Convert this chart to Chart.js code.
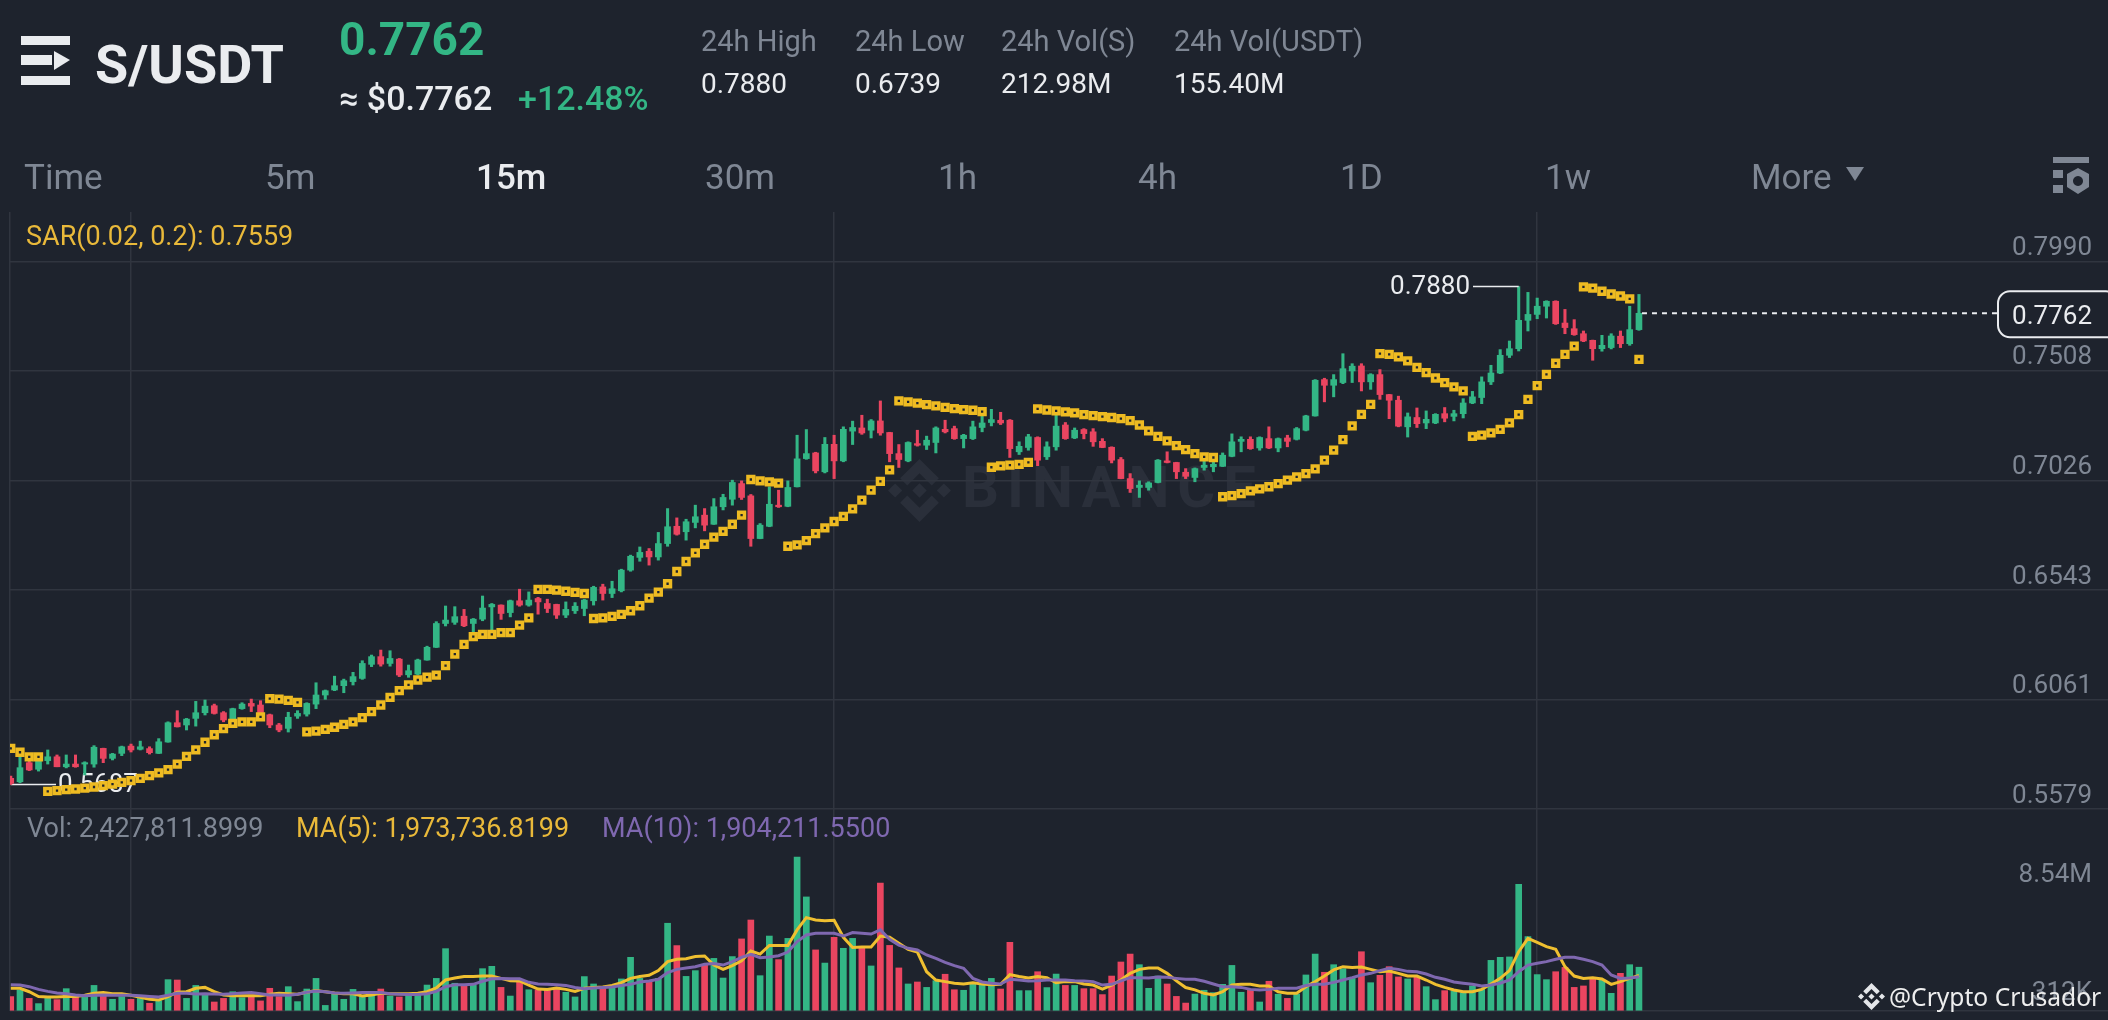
<!DOCTYPE html>
<html>
<head>
<meta charset="utf-8">
<title>S/USDT</title>
<script src="https://cdn.jsdelivr.net/npm/chart.js@4"></script>
<style>
	html, body { margin: 0; background: #1e232d; overflow: hidden; }
	#page { position: relative; width: 2108px; height: 1020px; font-family: Roboto, sans-serif; color: #eaecef; }
	#chart { position: absolute; left: 0; top: 0; }
	.t { position: absolute; white-space: nowrap; transform: translateY(-50%); line-height: 1; }
	.gray { color: #7f8794; }
	.green { color: #33b685; }
	.tab { font-size: 35px; top: 177px; color: #7f8794; }
	.head { font-size: 29px; top: 41px; color: #7f8794; }
	.val { font-size: 28px; top: 84px; }
	.leg { font-size: 27px; }
	.mark { position: absolute; }
</style>
</head>
<body>
<div id="page">
	<svg class="mark" style="left:888px;top:459px" width="63" height="63" viewBox="0 0 126.61 126.61"><path fill="#2a2f3a" d="m38.73 53.2 24.59-24.58 24.6 24.6 14.3-14.31L63.32 0 24.42 38.9l14.31 14.3zM0 63.31l14.3-14.31 14.31 14.31-14.31 14.3zM38.73 73.41l24.59 24.59 24.6-24.6 14.31 14.29-38.9 38.91-38.91-38.88v-.03zM98 63.31l14.3-14.31 14.31 14.3-14.31 14.32zM77.83 63.3 63.32 48.78 52.59 59.51l-1.24 1.23-2.54 2.54 14.51 14.5 14.51-14.47z"/></svg>
	<div class="t" style="left:962px;top:487px;font-size:58px;font-weight:700;letter-spacing:8px;color:#2a2f3a">BINANCE</div>

	<canvas id="chart" width="2108" height="1020"></canvas>

	<svg class="mark" style="left:21px;top:36px" width="49" height="49" viewBox="0 0 49 49" fill="#eaecef"><rect width="49" height="9"/><rect y="19" width="31" height="10"/><polygon points="33,15 49,24 33,34"/><rect y="40" width="49" height="9"/></svg>
	<div class="t" style="left:95px;top:65px;font-size:54px;font-weight:700">S/USDT</div>
	<div class="t green" style="left:339px;top:39px;font-size:46px;font-weight:700">0.7762</div>
	<div class="t" style="left:339px;top:98px;font-size:34px;font-weight:500">≈ $0.7762</div>
	<div class="t green" style="left:518px;top:98px;font-size:34px;font-weight:500">+12.48%</div>

	<div class="t head" style="left:701px">24h High</div>
	<div class="t head" style="left:855px">24h Low</div>
	<div class="t head" style="left:1001px">24h Vol(S)</div>
	<div class="t head" style="left:1174px">24h Vol(USDT)</div>
	<div class="t val" style="left:701px">0.7880</div>
	<div class="t val" style="left:855px">0.6739</div>
	<div class="t val" style="left:1001px">212.98M</div>
	<div class="t val" style="left:1174px">155.40M</div>

	<div class="t tab" style="left:24px">Time</div>
	<div class="t tab" style="left:265px">5m</div>
	<div class="t tab" style="left:476px;color:#eaecef;font-weight:500">15m</div>
	<div class="t tab" style="left:705px">30m</div>
	<div class="t tab" style="left:938px">1h</div>
	<div class="t tab" style="left:1138px">4h</div>
	<div class="t tab" style="left:1340px">1D</div>
	<div class="t tab" style="left:1545px">1w</div>
	<div class="t tab" style="left:1751px">More</div>
	<svg class="mark" style="left:1846px;top:167px" width="18" height="14" viewBox="0 0 18 14" fill="#7f8794"><polygon points="0,0 18,0 9,14"/></svg>
	<svg class="mark" style="left:2053px;top:157px" width="37" height="37" viewBox="0 0 37 37" fill="#7f8794"><rect width="36" height="6"/><rect y="13" width="10" height="8"/><rect y="28" width="10" height="8"/><path fill-rule="evenodd" d="M25 11l11 6v13l-11 7-11-7V17zM25 19a5 5 0 1 0 .01 0z"/></svg>

	<div class="t leg" style="left:26px;top:236px;color:#e9b93a">SAR(0.02, 0.2): 0.7559</div>
	<div class="t leg gray" style="left:27px;top:828px">Vol: 2,427,811.8999</div>
	<div class="t leg" style="left:296px;top:828px;color:#e9b93a">MA(5): 1,973,736.8199</div>
	<div class="t leg" style="left:602px;top:828px;color:#7f68b0">MA(10): 1,904,211.5500</div>

	<svg class="mark" style="left:1858px;top:983px" width="27" height="27" viewBox="0 0 126.61 126.61"><path fill="#e4e6e9" d="m38.73 53.2 24.59-24.58 24.6 24.6 14.3-14.31L63.32 0 24.42 38.9l14.31 14.3zM0 63.31l14.3-14.31 14.31 14.31-14.31 14.3zM38.73 73.41l24.59 24.59 24.6-24.6 14.31 14.29-38.9 38.91-38.91-38.88v-.03zM98 63.31l14.3-14.31 14.31 14.3-14.31 14.32zM77.83 63.3 63.32 48.78 52.59 59.51l-1.24 1.23-2.54 2.54 14.51 14.5 14.51-14.47z"/></svg>
	<div class="t" style="left:1889px;top:997px;font-family:'Noto Sans';font-size:24.6px;color:#eeeeee">@Crypto Crusador</div>
</div>

<script>
const opens = [
	.5714,.5699,.5783,.5754,.5792,.5809,.5765,.5777,.5777,.5777,
	.5846,.5802,.5824,.5856,.5842,.5845,.5824,.5874,.5959,.5949,
	.5978,.6003,.6034,.6003,.5971,.6021,.6044,.6037,.5994,.5949,
	.5934,.5988,.5997,.6041,.6081,.6103,.6122,.6140,.6154,.6216,
	.6250,.6220,.6239,.6170,.6173,.6235,.6291,.6396,.6401,.6428,
	.6396,.6415,.6469,.6477,.6444,.6496,.6477,.6506,.6484,.6480,
	.6433,.6452,.6462,.6496,.6557,.6528,.6540,.6631,.6687,.6714,
	.6689,.6748,.6824,.6800,.6841,.6873,.6833,.6910,.6943,.7012,
	.6958,.6770,.6824,.6917,.6912,.6998,.7122,.7147,.7064,.7185,
	.7112,.7243,.7257,.7247,.7288,.7237,.7144,.7112,.7188,.7181,
	.7193,.7251,.7254,.7210,.7210,.7259,.7281,.7291,.7291,.7152,
	.7171,.7215,.7130,.7174,.7270,.7213,.7250,.7240,.7198,.7172,
	.7118,.7034,.6995,.6995,.7017,.7112,.7105,.7062,.7039,.7083,
	.7086,.7088,.7132,.7198,.7207,.7169,.7210,.7169,.7213,.7207,
	.7247,.7310,.7470,.7445,.7457,.7508,.7530,.7460,.7492,.7404,
	.7379,.7262,.7303,.7279,.7279,.7320,.7308,.7320,.7367,.7391,
	.7460,.7499,.7577,.7606,.7731,.7757,.7793,.7815,.7719,.7694,
	.7672,.7643,.7606,.7611,.7661,.7628,.7690,
]
const closes = [
	.5692,.5761,.5751,.5795,.5809,.5765,.5777,.5765,.5783,.5851,
	.5802,.5821,.5853,.5839,.5853,.5827,.5875,.5959,.5941,.5975,
	.6003,.6032,.6000,.5971,.6021,.6041,.6032,.6000,.5949,.5927,
	.5983,.6000,.6044,.6081,.6100,.6122,.6144,.6162,.6220,.6250,
	.6217,.6242,.6169,.6188,.6235,.6291,.6396,.6411,.6426,.6386,
	.6415,.6464,.6480,.6440,.6496,.6477,.6499,.6491,.6462,.6433,
	.6458,.6472,.6499,.6555,.6528,.6549,.6631,.6692,.6709,.6689,
	.6748,.6822,.6789,.6844,.6866,.6829,.6910,.6951,.7017,.6951,
	.6770,.6829,.6921,.6910,.6995,.7121,.7144,.7068,.7185,.7112,
	.7251,.7259,.7235,.7288,.7235,.7144,.7118,.7193,.7181,.7203,
	.7257,.7240,.7210,.7225,.7262,.7279,.7294,.7279,.7166,.7176,
	.7218,.7115,.7174,.7265,.7210,.7247,.7232,.7196,.7171,.7115,
	.7034,.6990,.7005,.7015,.7115,.7105,.7064,.7044,.7078,.7093,
	.7097,.7137,.7196,.7207,.7166,.7215,.7169,.7210,.7198,.7254,
	.7310,.7467,.7445,.7470,.7518,.7529,.7460,.7492,.7404,.7379,
	.7265,.7306,.7276,.7295,.7317,.7300,.7320,.7367,.7394,.7460,
	.7499,.7577,.7606,.7731,.7757,.7793,.7815,.7716,.7699,.7668,
	.7640,.7606,.7621,.7662,.7628,.7690,.7762,
]
const highs = [
	.5724,.5809,.5795,.5824,.5839,.5817,.5817,.5817,.5787,.5858,
	.5847,.5824,.5856,.5865,.5878,.5853,.5889,.5963,.6012,.5978,
	.6053,.6059,.6041,.6008,.6023,.6047,.6063,.6056,.5997,.5956,
	.6005,.6012,.6047,.6135,.6103,.6164,.6151,.6181,.6232,.6257,
	.6279,.6276,.6242,.6213,.6239,.6296,.6404,.6473,.6470,.6458,
	.6418,.6517,.6484,.6478,.6499,.6547,.6535,.6511,.6503,.6481,
	.6491,.6488,.6502,.6560,.6569,.6582,.6635,.6697,.6733,.6726,
	.6797,.6902,.6861,.6855,.6917,.6902,.6946,.6965,.7027,.7024,
	.6964,.6836,.6998,.6983,.7024,.7225,.7250,.7150,.7215,.7225,
	.7262,.7287,.7313,.7294,.7376,.7238,.7184,.7196,.7247,.7221,
	.7262,.7291,.7265,.7229,.7287,.7342,.7339,.7326,.7294,.7196,
	.7229,.7218,.7196,.7313,.7281,.7257,.7254,.7254,.7210,.7174,
	.7127,.7056,.7024,.7020,.7118,.7152,.7106,.7078,.7081,.7112,
	.7130,.7147,.7231,.7218,.7218,.7218,.7262,.7213,.7225,.7259,
	.7313,.7470,.7476,.7492,.7584,.7540,.7540,.7496,.7514,.7405,
	.7397,.7323,.7345,.7332,.7320,.7347,.7335,.7386,.7418,.7482,
	.7533,.7602,.7640,.7880,.7854,.7829,.7817,.7817,.7779,.7734,
	.7684,.7644,.7665,.7672,.7684,.7793,.7845,
]
const lows = [
	.5687,.5695,.5748,.5746,.5777,.5765,.5760,.5763,.5729,.5763,
	.5783,.5795,.5814,.5830,.5839,.5821,.5823,.5873,.5940,.5927,
	.5944,.5993,.5997,.5963,.5970,.6018,.6008,.5999,.5937,.5919,
	.5918,.5978,.5988,.6021,.6062,.6100,.6091,.6125,.6150,.6206,
	.6208,.6208,.6162,.6159,.6169,.6234,.6290,.6385,.6392,.6382,
	.6360,.6408,.6367,.6414,.6425,.6472,.6472,.6437,.6444,.6418,
	.6422,.6440,.6430,.6477,.6499,.6510,.6535,.6626,.6670,.6653,
	.6675,.6736,.6785,.6763,.6817,.6804,.6832,.6896,.6917,.6942,
	.6736,.6769,.6822,.6907,.6910,.6997,.7119,.7059,.7059,.7034,
	.7108,.7184,.7229,.7213,.7225,.7108,.7083,.7108,.7177,.7162,
	.7147,.7235,.7207,.7169,.7206,.7240,.7266,.7272,.7127,.7140,
	.7159,.7091,.7118,.7159,.7207,.7210,.7209,.7176,.7170,.7103,
	.7033,.6973,.6951,.6983,.7015,.7103,.7034,.7034,.7020,.7071,
	.7064,.7087,.7130,.7152,.7163,.7159,.7166,.7152,.7174,.7204,
	.7244,.7309,.7372,.7394,.7452,.7457,.7420,.7427,.7383,.7298,
	.7262,.7217,.7259,.7254,.7276,.7284,.7288,.7301,.7364,.7364,
	.7448,.7496,.7567,.7596,.7684,.7738,.7741,.7713,.7672,.7665,
	.7637,.7555,.7595,.7605,.7611,.7621,.7687,
]
const sarValues = [
	.5846,.5829,.5809,.5809,.5657,.5660,.5664,.5667,.5671,.5676,
	.5682,.5689,.5696,.5704,.5714,.5726,.5738,.5752,.5777,.5811,
	.5839,.5873,.5906,.5933,.5956,.5963,.5963,.5985,.6065,.6063,
	.6057,.6049,.5919,.5922,.5930,.5939,.5952,.5963,.5981,.6008,
	.6037,.6071,.6100,.6126,.6147,.6160,.6169,.6210,.6261,.6304,
	.6338,.6348,.6348,.6356,.6356,.6389,.6421,.6546,.6546,.6543,
	.6538,.6533,.6528,.6418,.6421,.6427,.6436,.6452,.6474,.6508,
	.6534,.6571,.6625,.6669,.6707,.6745,.6776,.6802,.6833,.6873,
	.7030,.7024,.7020,.7014,.6736,.6742,.6761,.6792,.6817,.6845,
	.6868,.6901,.6939,.6983,.7022,.7072,.7376,.7372,.7366,.7360,
	.7354,.7348,.7342,.7338,.7335,.7329,.7084,.7090,.7093,.7097,
	.7105,.7341,.7336,.7332,.7328,.7323,.7316,.7311,.7307,.7303,
	.7298,.7289,.7270,.7244,.7220,.7200,.7179,.7162,.7144,.7130,
	.7127,.6954,.6959,.6968,.6980,.6989,.6998,.7012,.7027,.7042,
	.7056,.7077,.7115,.7159,.7206,.7266,.7317,.7361,.7584,.7581,
	.7570,.7552,.7524,.7501,.7477,.7457,.7438,.7420,.7220,.7225,
	.7235,.7251,.7279,.7316,.7383,.7443,.7493,.7542,.7581,.7617,
	.7878,.7873,.7859,.7847,.7838,.7825,.7559,
]
// volumes in millions
const volumes = [
	.80,1.17,.70,.41,.70,.63,1.24,.80,.80,1.42,
	.94,.65,.80,.65,.70,.43,.57,1.74,1.72,.70,
	1.42,.91,.50,.70,1.07,.74,.89,.56,1.26,.80,
	1.35,.52,1.22,1.81,.31,.94,.65,1.20,.80,.89,
	1.22,.83,.78,.89,.98,1.44,1.81,3.46,1.54,1.39,
	1.44,2.35,2.48,1.31,.83,1.59,1.18,1.17,1.17,1.26,
	1.04,.78,1.91,1.50,1.26,1.26,1.78,2.98,1.81,1.63,
	1.81,4.87,3.63,1.92,2.24,2.55,2.92,1.83,3.02,4.00,
	5.05,1.96,4.16,2.85,4.03,8.54,6.33,3.39,2.66,4.09,
	3.48,4.03,3.57,2.50,7.10,3.64,2.39,1.50,1.61,1.31,
	1.68,2.04,1.18,1.15,1.54,1.44,1.81,1.22,3.81,1.13,
	1.13,2.18,1.30,2.05,1.42,1.42,1.24,1.24,.91,1.94,
	2.72,3.16,2.57,1.26,1.94,1.50,.81,.44,.94,1.15,
	1.02,1.48,2.53,1.04,1.20,.50,1.65,.93,.70,.94,
	2.00,3.16,2.15,2.57,2.35,1.81,3.29,1.57,1.98,2.46,
	1.89,1.78,1.89,1.35,.63,1.13,1.11,1.02,1.39,1.20,
	2.81,2.98,3.00,7.03,4.13,2.02,1.74,2.18,2.42,1.31,
	1.39,1.81,1.72,.98,2.09,2.57,2.43,
]
const ma5Values = [
	1.26,1.26,1.07,.80,.78,.78,.80,.80,.87,.98,
	1.02,.96,.96,.87,.76,.65,.61,.80,1.04,1.07,
	1.26,1.31,1.07,.89,.85,.85,.85,.85,.93,.98,
	.96,.93,1.04,1.13,1.07,1.00,.96,.96,.83,.89,
	.98,.96,.96,.96,.98,1.07,1.28,1.72,1.83,1.91,
	1.92,1.94,1.94,1.81,1.68,1.67,1.44,1.22,1.20,1.28,
	1.20,1.09,1.26,1.31,1.33,1.42,1.57,1.81,1.91,1.98,
	2.24,2.74,2.87,2.90,3.02,3.05,2.55,2.31,2.52,2.78,
	3.33,3.16,3.64,3.63,3.63,4.50,5.18,5.05,5.01,5.03,
	4.09,3.53,3.55,3.55,4.16,4.09,3.76,3.42,3.27,2.18,
	1.72,1.63,1.54,1.50,1.57,1.50,1.46,1.48,2.02,1.91,
	1.83,1.92,1.85,1.57,1.63,1.63,1.50,1.44,1.22,1.44,
	1.72,2.09,2.31,2.39,2.39,2.09,1.67,1.30,1.17,.98,
	.89,1.07,1.44,1.48,1.48,1.39,1.39,1.07,.98,.98,
	1.35,1.63,1.94,2.28,2.46,2.42,2.44,2.31,2.18,2.22,
	2.09,1.94,1.94,1.72,1.48,1.31,1.17,1.07,1.07,1.20,
	1.50,1.81,2.24,3.29,4.03,3.81,3.57,3.42,2.46,1.94,
	1.81,1.85,1.78,1.48,1.63,1.81,1.97,
]
const ma10Values = [
	1.46,1.44,1.35,1.20,1.09,1.00,.96,.89,.85,.87,
	.89,.87,.87,.87,.85,.81,.78,.87,.98,.98,
	.94,.96,.94,.93,.96,1.00,1.02,.96,.89,.89,
	.87,.93,1.04,1.11,1.07,1.00,.98,1.00,1.02,1.02,
	1.02,.96,.93,.91,.91,.96,1.09,1.35,1.46,1.46,
	1.48,1.65,1.79,1.81,1.79,1.79,1.59,1.50,1.48,1.46,
	1.42,1.30,1.24,1.28,1.31,1.33,1.41,1.48,1.61,1.67,
	1.76,2.13,2.31,2.39,2.46,2.59,2.63,2.55,2.74,2.98,
	3.15,2.96,3.00,3.07,3.27,3.85,4.22,4.31,4.31,4.31,
	4.16,4.35,4.31,4.27,4.50,3.98,3.66,3.48,3.39,3.11,
	2.92,2.70,2.52,2.37,1.81,1.61,1.54,1.50,1.76,1.72,
	1.67,1.68,1.72,1.72,1.72,1.68,1.67,1.63,1.44,1.48,
	1.67,1.85,1.85,1.83,1.89,1.87,1.81,1.76,1.76,1.65,
	1.50,1.35,1.35,1.31,1.20,1.17,1.20,1.26,1.26,1.26,
	1.41,1.48,1.48,1.59,1.72,1.85,2.00,2.09,2.24,2.37,
	2.31,2.20,2.18,2.05,1.87,1.76,1.61,1.54,1.48,1.39,
	1.44,1.54,1.72,2.18,2.55,2.65,2.74,2.87,2.98,2.98,
	2.87,2.74,2.55,2.00,1.81,1.83,1.90,
]
const priceTicks = [0.5579, 0.6061, 0.6543, 0.7026, 0.7508, 0.799]
const timeTicks = [-0.08, 13, 89, 165]
const lastPrice = 0.7762
const highPrice = 0.788
const lowPrice = 0.5687
const volMax = 8.54
const volMin = 0.312

const green = '#33b685'
const red = '#ea4560'
const yellow = '#eebb22'
const gridColor = '#30353f'
const labelColor = '#7f8794'

const candleColors = closes.map((close, i) => (close >= opens[i] ? green : red))
const pointsFrom = (values) => values.map((y, x) => ({ x, y }))

const labelsPlugin = {
	id: 'labels',
	beforeDatasetsDraw(chart) {
		const { ctx, scales } = chart
		const y = scales.y.getPixelForValue(lowPrice)
		ctx.save()
		ctx.strokeStyle = '#eaecef'
		ctx.lineWidth = 1.5
		ctx.beginPath()
		ctx.moveTo(scales.x.getPixelForValue(0), y)
		ctx.lineTo(56, y)
		ctx.stroke()
		ctx.fillStyle = '#eaecef'
		ctx.font = '26px Roboto'
		ctx.textAlign = 'left'
		ctx.textBaseline = 'middle'
		ctx.fillText(lowPrice.toFixed(4), 58, y + 1)
		ctx.restore()
	},
	afterDatasetsDraw(chart) {
		const { ctx, scales } = chart
		const lastY = scales.y.getPixelForValue(lastPrice)
		const highY = scales.y.getPixelForValue(highPrice)
		ctx.save()
		ctx.strokeStyle = '#eaecef'
		ctx.fillStyle = '#eaecef'
		ctx.textBaseline = 'middle'
		ctx.font = '26px Roboto'

		// last price line and pill
		ctx.lineWidth = 2
		ctx.setLineDash([5, 5])
		ctx.beginPath()
		ctx.moveTo(scales.x.getPixelForValue(opens.length - 1) + 3, lastY)
		ctx.lineTo(1997, lastY)
		ctx.stroke()
		ctx.setLineDash([])
		ctx.beginPath()
		ctx.roundRect(1998, lastY - 22, 120, 46, 12)
		ctx.fillStyle = '#1e232d'
		ctx.fill()
		ctx.stroke()
		ctx.fillStyle = '#eaecef'
		ctx.textAlign = 'right'
		ctx.fillText(lastPrice.toFixed(4), 2092, lastY + 4)

		// 24h high marker
		ctx.lineWidth = 1.5
		ctx.beginPath()
		ctx.moveTo(1473, highY)
		ctx.lineTo(scales.x.getPixelForValue(highs.indexOf(highPrice)), highY)
		ctx.stroke()
		ctx.fillText(highPrice.toFixed(4), 1470, highY + 1)

		// volume axis labels
		ctx.fillStyle = labelColor
		ctx.fillText('8.54M', 2092, scales.vol.getPixelForValue(volMax) + 18)
		ctx.fillText('312K', 2092, scales.vol.getPixelForValue(volMin) - 12)
		ctx.restore()
	},
}

// mirrored labels must not reserve any room beside or above the plot
const dropAxisRoom = (axis) => {
	axis.paddingTop = 0
	axis.paddingBottom = 0
	axis.paddingLeft = 0
	axis.paddingRight = 0
	if (axis.id !== 'x') {
		axis.width = 0
	}
}

const context = document.getElementById('chart').getContext('2d')
const chart = new Chart(context, {
	type: 'bar',
	data: {
		datasets: [
			{
				label: 'SAR',
				type: 'line',
				data: pointsFrom(sarValues),
				showLine: false,
				yAxisID: 'y',
				pointStyle: 'rect',
				pointRadius: 4.1,
				pointBorderWidth: 3.5,
				pointBorderColor: yellow,
				pointBackgroundColor: '#1e232d',
				order: 0,
			},
			{
				label: 'High-Low',
				data: highs.map((high, x) => ({ x, y: [lows[x], high] })),
				backgroundColor: candleColors,
				barThickness: 2.4,
				grouped: false,
				yAxisID: 'y',
				order: 2,
			},
			{
				label: 'Open-Close',
				data: opens.map((open, x) => ({ x, y: [open, closes[x]] })),
				backgroundColor: candleColors,
				barThickness: 6,
				grouped: false,
				yAxisID: 'y',
				order: 1,
			},
			{
				label: 'MA(10)',
				type: 'line',
				data: pointsFrom(ma10Values),
				yAxisID: 'vol',
				borderColor: '#7f68b0',
				borderWidth: 3,
				pointRadius: 0,
				order: 3,
			},
			{
				label: 'MA(5)',
				type: 'line',
				data: pointsFrom(ma5Values),
				yAxisID: 'vol',
				borderColor: '#efbf30',
				borderWidth: 3,
				pointRadius: 0,
				order: 4,
			},
			{
				label: 'Vol',
				data: pointsFrom(volumes),
				backgroundColor: candleColors,
				barThickness: 6,
				grouped: false,
				yAxisID: 'vol',
				order: 5,
			},
		],
	},
	options: {
		responsive: false,
		animation: false,
		layout: { autoPadding: false, padding: { left: 10, top: 212, right: 0, bottom: 9 } },
		plugins: { legend: { display: false }, tooltip: { enabled: false } },
		scales: {
			x: {
				type: 'linear',
				offset: false,
				min: -0.08,
				max: 226.7,
				afterBuildTicks: (axis) => {
					axis.ticks = timeTicks.map((value) => ({ value }))
				},
				afterFit: dropAxisRoom,
				ticks: { display: false, autoSkip: false },
				grid: { offset: false, color: gridColor, drawTicks: false, lineWidth: 1.5 },
				border: { display: false },
			},
			y: {
				position: 'right',
				min: 0.46895,
				max: 0.8208,
				afterBuildTicks: (axis) => {
					axis.ticks = priceTicks.map((value) => ({ value }))
				},
				afterFit: dropAxisRoom,
				ticks: {
					mirror: true,
					padding: -16,
					labelOffset: -13,
					color: labelColor,
					font: { family: 'Roboto', size: 26 },
					callback: (value) => value.toFixed(4),
				},
				grid: { color: gridColor, drawTicks: false, lineWidth: 1.5 },
				border: { display: false },
			},
			vol: {
				position: 'right',
				min: 0,
				max: 44.34,
				afterBuildTicks: (axis) => {
					axis.ticks = [{ value: 0 }]
				},
				afterFit: dropAxisRoom,
				ticks: { display: false },
				grid: { color: gridColor, drawTicks: false, lineWidth: 1.5 },
				border: { display: false },
			},
		},
	},
	plugins: [labelsPlugin],
})
</script>
</body>
</html>
